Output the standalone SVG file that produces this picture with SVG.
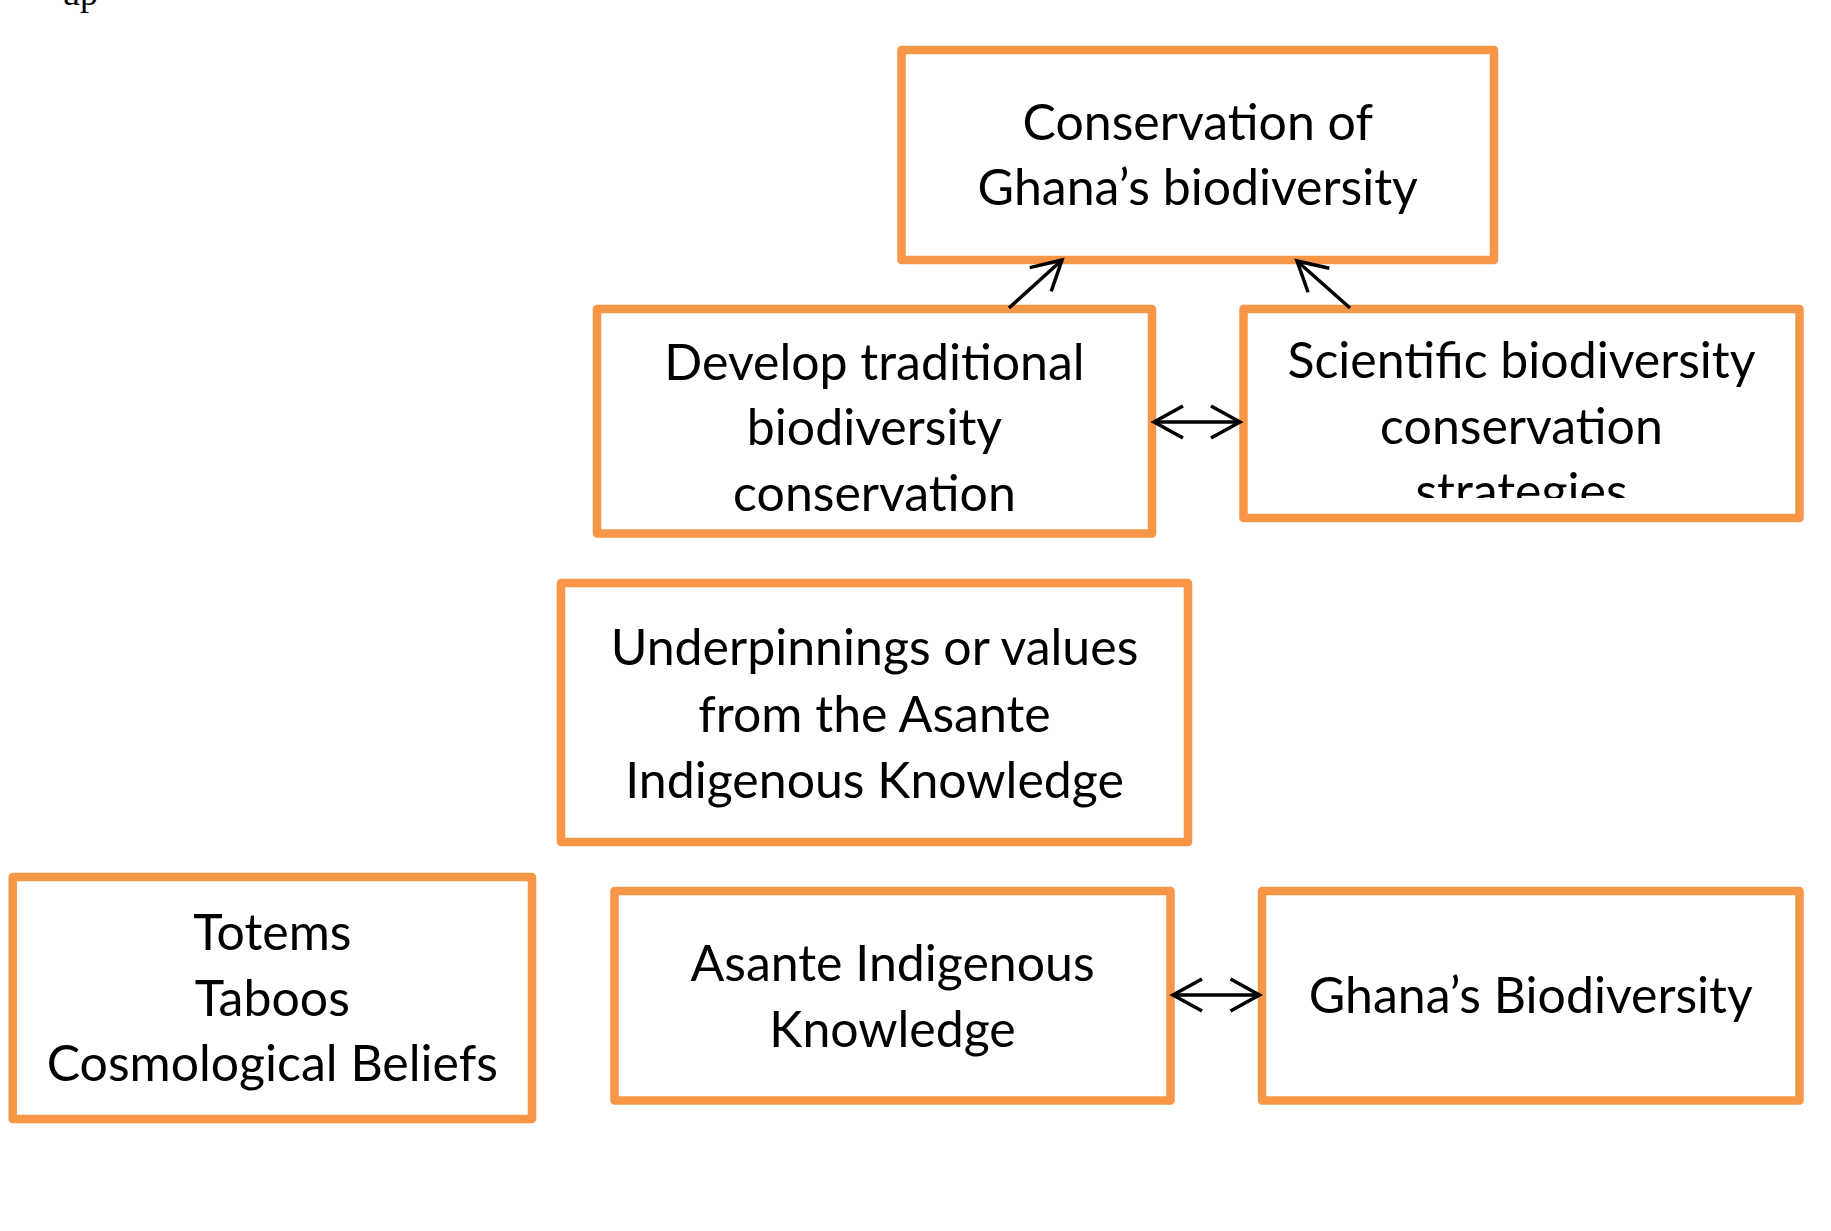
<svg xmlns="http://www.w3.org/2000/svg" width="1831" height="1231" viewBox="0 0 1831 1231">
  <style>
    .box { fill: #FFFFFF; stroke: #F79646; stroke-width: 8.5; stroke-linejoin: round; }
    .lbl { font-family: Lato, "Liberation Sans", sans-serif; font-size: 50px; fill: #000000; text-anchor: middle; }
    .frag { font-family: "Liberation Serif", serif; font-size: 36px; fill: #000000; }
    .conn { fill: none; stroke: #000000; stroke-width: 3.5; }
  </style>
  <defs>
    <marker id="head" markerUnits="userSpaceOnUse" markerWidth="40" markerHeight="40" viewBox="-34 -20 40 40" refX="0" refY="0" orient="auto-start-reverse">
      <path d="M -29 -16 L 0 0 L -29 16" fill="none" stroke="#000000" stroke-width="3.5" stroke-linecap="butt" stroke-linejoin="miter"/>
    </marker>
    <clipPath id="clipSci">
      <rect x="1240" y="305" width="565" height="193"/>
    </clipPath>
  </defs>
  <rect x="0" y="0" width="1831" height="1231" fill="#FFFFFF"/>

  <text class="frag" x="62" y="5">up</text>

  <g id="conservation">
    <rect class="box" x="901.5" y="50" width="592.5" height="210"/>
    <text class="lbl" x="1197.75" y="140">Conservation of</text>
    <text class="lbl" x="1197.75" y="205">Ghana’s biodiversity</text>
  </g>

  <g id="develop">
    <rect class="box" x="597" y="309" width="555" height="224.5"/>
    <text class="lbl" x="874.5" y="379.5">Develop traditional</text>
    <text class="lbl" x="874.5" y="445">biodiversity</text>
    <text class="lbl" x="874.5" y="510.5">conservation</text>
  </g>

  <g id="scientific">
    <rect class="box" x="1243.5" y="309" width="556" height="209"/>
    <g clip-path="url(#clipSci)">
      <text class="lbl" x="1521.5" y="378">Scientific biodiversity</text>
      <text class="lbl" x="1521.5" y="443.5">conservation</text>
      <text class="lbl" x="1521.5" y="509">strategies</text>
    </g>
  </g>

  <g id="underpinnings">
    <rect class="box" x="561" y="583" width="627" height="259"/>
    <text class="lbl" x="874.5" y="665">Underpinnings or values</text>
    <text class="lbl" x="874.5" y="731.5">from the Asante</text>
    <text class="lbl" x="874.5" y="798">Indigenous Knowledge</text>
  </g>

  <g id="totems">
    <rect class="box" x="12.7" y="877" width="519.3" height="242"/>
    <text class="lbl" x="272.3" y="950">Totems</text>
    <text class="lbl" x="272.3" y="1016">Taboos</text>
    <text class="lbl" x="272.3" y="1081">Cosmological Beliefs</text>
  </g>

  <g id="asante">
    <rect class="box" x="614.5" y="891" width="556" height="209.5"/>
    <text class="lbl" x="892.5" y="980.7">Asante Indigenous</text>
    <text class="lbl" x="892.5" y="1047.3">Knowledge</text>
  </g>

  <g id="ghana">
    <rect class="box" x="1262" y="891" width="537.5" height="209.5"/>
    <text class="lbl" x="1530.75" y="1013.3">Ghana’s Biodiversity</text>
  </g>

  <g id="connectors">
    <line class="conn" x1="1009" y1="308" x2="1062" y2="260" marker-end="url(#head)"/>
    <line class="conn" x1="1350" y1="308" x2="1297" y2="261" marker-end="url(#head)"/>
    <line class="conn" x1="1154" y1="422" x2="1240" y2="422" marker-start="url(#head)" marker-end="url(#head)"/>
    <line class="conn" x1="1173" y1="995" x2="1259.5" y2="995" marker-start="url(#head)" marker-end="url(#head)"/>
  </g>
</svg>
